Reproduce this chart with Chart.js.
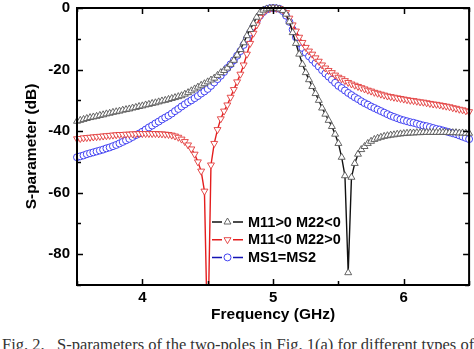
<!DOCTYPE html>
<html lang="en">
<head>
<meta charset="UTF-8">
<title>S-parameter</title>
<script src="https://cdn.jsdelivr.net/npm/chart.js"></script>
<style>
  body { margin: 0; background: #fff; width: 474px; height: 349px; overflow: hidden; position: relative; }
  #wrap { position: absolute; left: 0; top: 0; width: 474px; height: 334px; }
  #caption { position: absolute; left: 2px; top: 335px; font: 16.5px "Liberation Serif", "DejaVu Serif", serif; color: #333; white-space: nowrap; }
</style>
</head>
<body>
<div id="wrap"><canvas id="myChart" width="474" height="334"></canvas></div>
<div id="caption">Fig. 2.&nbsp;&nbsp;&nbsp;S-parameters of the two-poles in Fig. 1(a) for different types of</div>
<script>
// frequency points (GHz)
const freq = [
  3.5, 3.525, 3.55, 3.575, 3.6, 3.625, 3.65, 3.675, 3.7, 3.725, 3.75, 3.775, 3.8, 3.825, 3.85, 3.875, 3.9, 3.925, 3.95, 3.975,
  4, 4.025, 4.05, 4.075, 4.1, 4.125, 4.15, 4.175, 4.2, 4.225, 4.25, 4.275, 4.3, 4.325, 4.35, 4.375, 4.4, 4.425, 4.45, 4.475,
  4.5, 4.525, 4.55, 4.575, 4.6, 4.625, 4.65, 4.675, 4.7, 4.725, 4.75, 4.775, 4.8, 4.825, 4.85, 4.875, 4.9, 4.925, 4.95, 4.975,
  5, 5.025, 5.05, 5.075, 5.1, 5.125, 5.15, 5.175, 5.2, 5.225, 5.25, 5.275, 5.3, 5.325, 5.35, 5.375, 5.4, 5.425, 5.45, 5.475,
  5.5, 5.525, 5.55, 5.575, 5.6, 5.625, 5.65, 5.675, 5.7, 5.725, 5.75, 5.775, 5.8, 5.825, 5.85, 5.875, 5.9, 5.925, 5.95, 5.975,
  6, 6.025, 6.05, 6.075, 6.1, 6.125, 6.15, 6.175, 6.2, 6.225, 6.25, 6.275, 6.3, 6.325, 6.35, 6.375, 6.4, 6.425, 6.45, 6.475,
  6.5
];

// M11>0 M22<0 (dB)
const sM11pos = [
  -36.8, -36.5, -36.2, -35.9, -35.6, -35.4, -35.2, -34.9, -34.7, -34.4, -34.2, -33.9, -33.7, -33.5, -33.2, -33.0, -32.8, -32.5, -32.3, -32.0,
  -31.8, -31.5, -31.3, -31.0, -30.8, -30.5, -30.2, -30.0, -29.7, -29.4, -29.1, -28.8, -28.5, -28.0, -27.5, -26.9, -26.3, -25.7, -25.1, -24.6,
  -24.0, -23.4, -22.8, -21.9, -21.0, -20.3, -19.5, -18.3, -17.0, -15.3, -13.5, -11.3, -9.0, -7.0, -5.0, -3.0, -1.5, -0.7, -0.3, -0.1,
  0, -0.1, -0.3, -0.8, -2.0, -4.5, -8.0, -11.5, -15.0, -18.3, -21.0, -23.3, -25.5, -27.8, -30.0, -32.5, -34.5, -36.5, -38.5, -41.0,
  -44.0, -48.5, -54.5, -86.0, -55.0, -50.5, -47.5, -46.0, -45.0, -44.0, -43.3, -42.7, -42.3, -42.0, -41.7, -41.5, -41.3, -41.2, -41.0, -40.9,
  -40.8, -40.7, -40.6, -40.6, -40.5, -40.5, -40.4, -40.4, -40.4, -40.4, -40.4, -40.4, -40.4, -40.4, -40.5, -40.5, -40.5, -40.6, -40.6, -40.7,
  -40.7
];

// M11<0 M22>0 (dB)
const sM11neg = [
  -42.5, -42.4, -42.2, -42.1, -42.0, -41.9, -41.8, -41.7, -41.6, -41.5, -41.4, -41.3, -41.2, -41.1, -41.1, -41.0, -41.0, -40.9, -40.9, -40.8,
  -40.8, -40.8, -40.8, -40.8, -40.8, -40.9, -40.9, -41.0, -41.1, -41.3, -41.6, -42.0, -42.6, -43.4, -44.5, -45.8, -47.5, -50.0, -53.0, -59.5,
  -110, -51.0, -44.0, -39.5, -36.0, -33.5, -31.5, -29.0, -26.5, -24.0, -21.5, -18.5, -15.0, -11.5, -8.2, -5.5, -3.0, -1.5, -0.5, -0.2,
  0, -0.1, -0.2, -0.6, -1.5, -3.3, -5.5, -7.5, -9.5, -11.2, -12.8, -14.0, -15.0, -16.2, -17.3, -18.5, -19.5, -20.3, -21.0, -21.8,
  -22.5, -23.0, -23.6, -24.2, -24.7, -25.1, -25.5, -25.9, -26.3, -26.7, -27.0, -27.4, -27.7, -28.0, -28.3, -28.6, -28.8, -29.0, -29.2, -29.4,
  -29.6, -29.8, -30.0, -30.1, -30.3, -30.5, -30.6, -30.8, -31.0, -31.2, -31.3, -31.5, -31.7, -31.9, -32.1, -32.4, -32.6, -32.9, -33.1, -33.4,
  -33.7
];

// MS1=MS2 (dB)
const sMsEq = [
  -48.5, -48.2, -47.9, -47.5, -47.2, -46.9, -46.6, -46.3, -46.0, -45.6, -45.3, -44.9, -44.5, -44.0, -43.5, -43.0, -42.5, -41.9, -41.3, -40.8,
  -40.2, -39.5, -38.8, -38.2, -37.5, -36.9, -36.2, -35.6, -35.0, -34.3, -33.5, -32.8, -32.0, -31.3, -30.6, -30.0, -29.3, -28.6, -27.8, -27.1,
  -26.3, -25.3, -24.2, -23.1, -22.0, -20.8, -19.5, -18.3, -17.0, -15.5, -14.0, -12.0, -10.0, -8.0, -6.0, -4.2, -2.5, -1.3, -0.5, -0.1,
  0, -0.1, -0.3, -1.0, -2.5, -4.5, -7.0, -9.5, -11.5, -13.0, -14.5, -15.7, -16.8, -17.9, -19.0, -20.2, -21.3, -22.3, -23.3, -24.3,
  -25.3, -26.0, -26.8, -27.6, -28.3, -29.0, -29.6, -30.3, -30.9, -31.4, -32.0, -32.5, -33.0, -33.5, -34.0, -34.5, -35.0, -35.4, -35.8, -36.2,
  -36.5, -36.8, -37.1, -37.3, -37.6, -37.9, -38.2, -38.4, -38.7, -39.0, -39.3, -39.5, -39.8, -40.1, -40.4, -40.7, -41.0, -41.4, -41.8, -42.2,
  -42.6
];

const seriesLabels = ['M11>0 M22<0', 'M11<0 M22>0', 'MS1=MS2'];

function toPoints(vals) {
  return freq.map((f, i) => ({ x: f, y: vals[i] }));
}

const boldFont = '"Liberation Sans", Arial, sans-serif';

// frame + inward ticks on all four sides
const frameTicks = {
  id: 'frameTicks',
  afterDatasetsDraw(chart) {
    const { ctx, chartArea: a, scales: { x, y } } = chart;
    ctx.save();
    ctx.strokeStyle = '#000';
    ctx.lineWidth = 1.5;
    ctx.beginPath();
    x.ticks.forEach(t => {
      const px = Math.round(x.getPixelForValue(t.value)) + 0.5;
      const len = Number.isInteger(t.value) ? 6 : 4;
      ctx.moveTo(px, a.bottom); ctx.lineTo(px, a.bottom - len);
      ctx.moveTo(px, a.top); ctx.lineTo(px, a.top + len);
    });
    y.ticks.forEach(t => {
      const py = Math.round(y.getPixelForValue(t.value)) + 0.5;
      const len = t.value % 20 === 0 ? 6 : 4;
      ctx.moveTo(a.left, py); ctx.lineTo(a.left + len, py);
      ctx.moveTo(a.right, py); ctx.lineTo(a.right - len, py);
    });
    ctx.stroke();
    ctx.lineWidth = 2;
    ctx.strokeRect(a.left, a.top, a.right - a.left, a.bottom - a.top);
    ctx.restore();
  }
};

// legend drawn inside the plot area
const innerLegend = {
  id: 'innerLegend',
  afterDraw(chart) {
    const { ctx, chartArea: a } = chart;
    ctx.save();
    ctx.font = 'bold 14.5px ' + boldFont;
    ctx.textBaseline = 'middle';
    chart.data.datasets.forEach((ds, i) => {
      const yy = a.top + 214 + i * 17.7;
      const x0 = a.left + 135, x1 = a.left + 166;
      ctx.strokeStyle = ds.borderColor;
      ctx.lineWidth = 1.5;
      ctx.beginPath();
      ctx.moveTo(x0, yy); ctx.lineTo(x0 + 10, yy);
      ctx.moveTo(x1 - 10, yy); ctx.lineTo(x1, yy);
      ctx.stroke();
      ctx.fillStyle = '#fff';
      ctx.strokeStyle = ds.pointBorderColor;
      ctx.lineWidth = ds.pointBorderWidth;
      Chart.helpers.drawPoint(ctx, {
        pointStyle: ds.pointStyle,
        rotation: ds.rotation || 0,
        radius: ds.pointRadius,
        borderWidth: ds.pointBorderWidth
      }, (x0 + x1) / 2, yy);
      ctx.fillStyle = '#000';
      ctx.fillText(ds.label, a.left + 171, yy + 0.5);
    });
    ctx.restore();
  }
};

// fixed axis boxes so the plot area sits where the original one does
function fixBox(w, h) {
  return function (scale) {
    if (w !== null) scale.width = w;
    if (h !== null) scale.height = h;
    scale.paddingTop = 0;
    scale.paddingBottom = 0;
    scale.paddingLeft = 0;
    scale.paddingRight = 0;
  };
}

const ctxChart = document.getElementById('myChart').getContext('2d');
new Chart(ctxChart, {
  type: 'line',
  data: {
    datasets: [
      {
        label: seriesLabels[0],
        data: toPoints(sM11pos),
        borderColor: '#111111',
        borderWidth: 1.4,
        pointStyle: 'triangle',
        pointRadius: 4,
        pointBorderColor: '#555555',
        pointBackgroundColor: '#ffffff',
        pointBorderWidth: 0.9,
        clip: { left: 4, top: 6, right: 4, bottom: 0 }
      },
      {
        label: seriesLabels[1],
        data: toPoints(sM11neg),
        borderColor: '#e41d1d',
        borderWidth: 1.4,
        pointStyle: 'triangle',
        rotation: 180,
        pointRadius: 4,
        pointBorderColor: '#e23a3a',
        pointBackgroundColor: '#ffffff',
        pointBorderWidth: 0.9,
        clip: { left: 4, top: 6, right: 4, bottom: 0 }
      },
      {
        label: seriesLabels[2],
        data: toPoints(sMsEq),
        borderColor: '#1414b4',
        borderWidth: 1.6,
        pointStyle: 'circle',
        pointRadius: 3.5,
        pointBorderColor: '#3030f0',
        pointBackgroundColor: '#ffffff',
        pointBorderWidth: 0.9,
        clip: { left: 4, top: 6, right: 4, bottom: 0 }
      }
    ]
  },
  options: {
    responsive: false,
    devicePixelRatio: 1,
    animation: false,
    layout: { padding: { top: 8, right: 3, left: 0, bottom: 0 } },
    plugins: {
      legend: { display: false },
      tooltip: { enabled: false }
    },
    scales: {
      x: {
        type: 'linear',
        min: 3.5,
        max: 6.5,
        afterFit: fixBox(null, 49),
        grid: { display: false, drawTicks: false },
        border: { display: false },
        ticks: {
          stepSize: 0.5,
          autoSkip: false,
          maxRotation: 0,
          padding: 5,
          color: '#000',
          font: { family: boldFont, size: 15, weight: 'bold', lineHeight: 1 },
          callback: v => Number.isInteger(v) ? String(v) : ''
        },
        title: {
          display: true,
          text: 'Frequency (GHz)',
          color: '#000',
          font: { family: boldFont, size: 15.5, weight: 'bold' },
          padding: { top: 0, bottom: 10 }
        }
      },
      y: {
        min: -90,
        max: 0,
        afterFit: fixBox(77, null),
        grid: { display: false, drawTicks: false },
        border: { display: false },
        ticks: {
          stepSize: 10,
          padding: 7,
          color: '#000',
          font: { family: boldFont, size: 15, weight: 'bold', lineHeight: 1 },
          callback: v => v % 20 === 0 ? String(v) : ''
        },
        title: {
          display: true,
          text: 'S-parameter (dB)',
          color: '#000',
          font: { family: boldFont, size: 15.5, weight: 'bold' },
          padding: { top: 22, bottom: 0 }
        }
      }
    }
  },
  plugins: [frameTicks, innerLegend]
});
</script>
</body>
</html>
